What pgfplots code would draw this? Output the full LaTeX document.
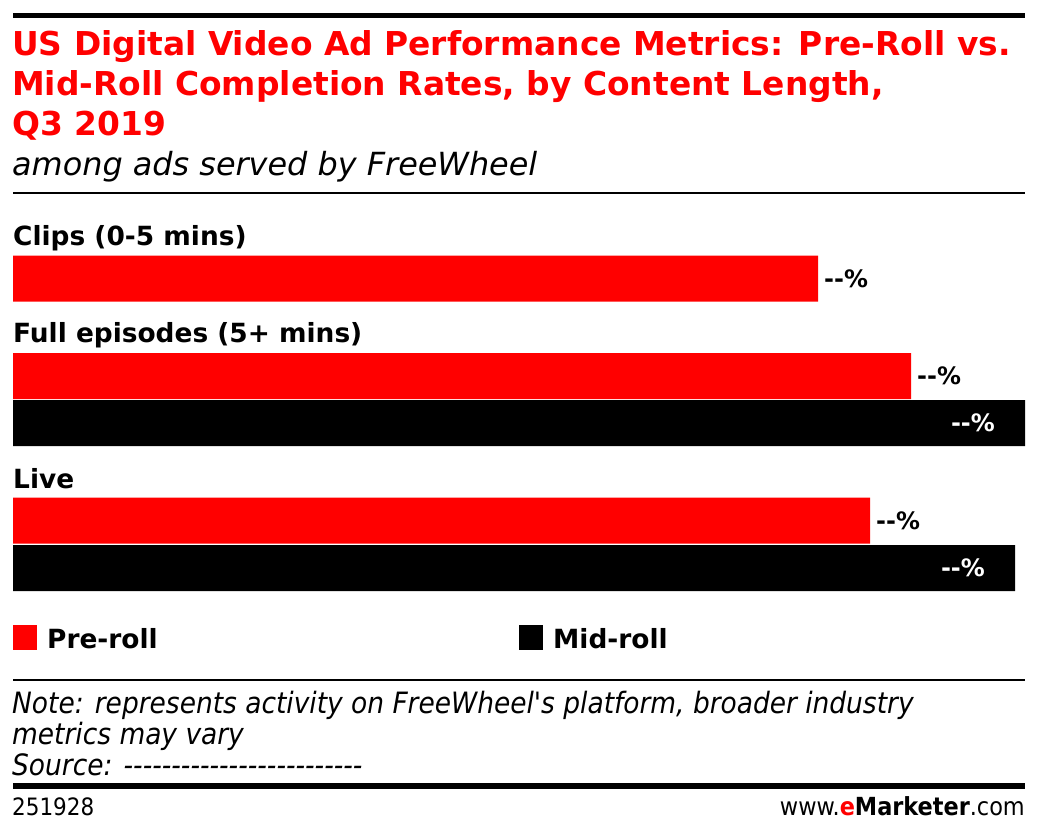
\documentclass[border=0pt]{standalone}
\usepackage{fontspec}
\usepackage{pgfplots}
\pgfplotsset{compat=1.18}
\setmainfont{DejaVu Sans}
\newfontfamily\condfont{DejaVu Sans Condensed}
\definecolor{emred}{HTML}{FF0000}

\begin{document}
\begin{tikzpicture}
\path[use as bounding box] (0,0) rectangle (1038bp,-835bp);

\begin{axis}[
  at={(13bp,-256bp)}, anchor=north west,
  scale only axis, width=1012bp, height=335bp,
  xmin=0, xmax=1012, ymin=256, ymax=591,
  y dir=reverse, hide axis, clip=false,
  xbar, bar width=46bp, bar shift=0pt,
  nodes near coords={\mbox{-}\mbox{-}\%},
  every node near coord/.append style={font=\fontsize{24}{26}\selectfont\bfseries, inner sep=0pt},
]
% pre-roll: clips, full episodes, live
\addplot[fill=emred, draw=none,
  every node near coord/.append style={anchor=west, xshift=6bp, text=black}]
  coordinates {(805,278.5) (898,376) (857,520.5)};
% mid-roll: full episodes, live
\addplot[fill=black, draw=none,
  every node near coord/.append style={anchor=east, xshift=-30bp, text=white}]
  coordinates {(1012,423) (1002,568)};
\end{axis}

\begin{scope}[x=1bp,y=-1bp]
\fill (13,13) rectangle (1025,18);
\node[anchor=base west, inner sep=0pt, align=left, text=emred,
  font=\fontsize{33}{40}\selectfont\bfseries] at (12,135)
  {US Digital Video Ad Performance Metrics: Pre-Roll vs.\\Mid-Roll Completion Rates, by Content Length,\\Q3 2019};
\node[anchor=base west, inner sep=0pt, font=\fontsize{32}{34}\selectfont\itshape] at (12,175)
  {among ads served by FreeWheel};
\fill (13,192) rectangle (1025,194);

\begin{scope}[every node/.style={anchor=base west, inner sep=0pt, font=\fontsize{26.5}{30}\selectfont\bfseries}]
\node at (13,245) {Clips (0-5 mins)};
\node at (13,342) {Full episodes (5+ mins)};
\node at (13,488) {Live};
\fill[emred] (13,625) rectangle (37,650);
\node at (47,648) {Pre-roll};
\fill[black] (519,625) rectangle (543,650);
\node at (553,648) {Mid-roll};
\end{scope}

\fill (13,679) rectangle (1025,681);
\node[anchor=base west, inner sep=0pt, align=left,
  font=\condfont\fontsize{29.5}{31}\selectfont\itshape] at (12,775)
  {Note: represents activity on FreeWheel's platform, broader industry\\metrics may vary\\Source: -------------------------};
\fill (13,783) rectangle (1025,789);
\node[anchor=base west, inner sep=0pt, font=\condfont\fontsize{24}{26}\selectfont] at (12,815) {251928};
\node[anchor=base east, inner sep=0pt, font=\condfont\fontsize{25}{26}\selectfont] at (1025,815)
  {www.{\bfseries\textcolor{emred}{e}Marketer}.com};
\end{scope}
\end{tikzpicture}
\end{document}
